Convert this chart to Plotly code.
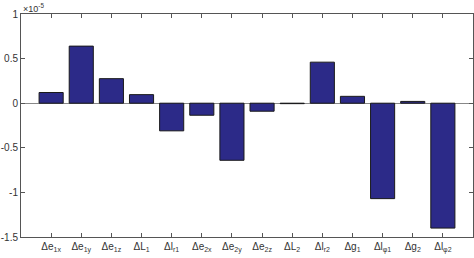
import plotly.graph_objects as go

categories = ["Δe<sub>1x</sub>", "Δe<sub>1y</sub>", "Δe<sub>1z</sub>", "ΔL<sub>1</sub>",
              "Δl<sub>r1</sub>", "Δe<sub>2x</sub>", "Δe<sub>2y</sub>", "Δe<sub>2z</sub>",
              "ΔL<sub>2</sub>", "Δl<sub>r2</sub>", "Δg<sub>1</sub>", "Δl<sub>φ1</sub>",
              "Δg<sub>2</sub>", "Δl<sub>φ2</sub>"]
values = [0.12, 0.64, 0.275, 0.096, -0.31, -0.135, -0.64, -0.09, -0.005, 0.46, 0.077, -1.07, 0.02, -1.40]
ytickvals = [-1.5, -1, -0.5, 0, 0.5, 1]
yticktext = ["-1.5", "-1", "-0.5", "0", "0.5", "1"]

xpos = list(range(1, len(categories) + 1))

fig = go.Figure()
fig.add_trace(go.Bar(
    x=xpos, y=values, width=0.8,
    marker=dict(color="#2C2A88", line=dict(color="#1a1a1a", width=1)),
))
fig.update_layout(
    width=474, height=258,
    margin=dict(l=21, r=1, t=14, b=21),
    plot_bgcolor="white", paper_bgcolor="white",
    showlegend=False,
    font=dict(family="Liberation Sans, Arial", size=10, color="#333333"),
)
fig.update_xaxes(
    range=[0, 15], tickvals=xpos, ticktext=categories,
    showline=True, linecolor="#555555", linewidth=1, mirror="ticks",
    ticks="inside", ticklen=4, tickcolor="#555555",
    showgrid=False, zeroline=False,
    tickfont=dict(size=10, color="#333333"),
)
fig.update_yaxes(
    range=[-1.5, 1], tickvals=ytickvals, ticktext=yticktext,
    showline=True, linecolor="#555555", linewidth=1, mirror="ticks",
    ticks="inside", ticklen=4, tickcolor="#555555",
    showgrid=False, zeroline=True, zerolinecolor="#888888", zerolinewidth=1,
    tickfont=dict(size=10, color="#333333"),
)
fig.add_annotation(
    text="×10<sup>-5</sup>", xref="paper", yref="paper", x=0, y=1,
    xanchor="left", yanchor="bottom", showarrow=False, yshift=-2,
    font=dict(size=9, color="#333333"),
)
fig.write_html("out.html")
